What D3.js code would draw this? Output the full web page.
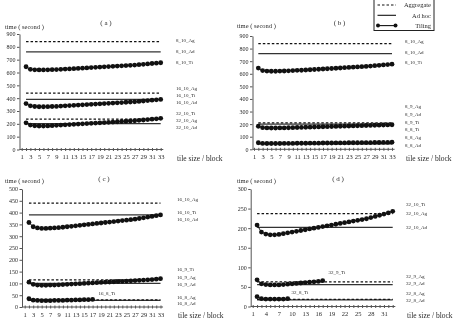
<!DOCTYPE html>
<html>
<head>
<meta charset="utf-8">
<style>
  body { margin: 0; background: #fff; }
  #wrap { width: 474px; height: 326px; will-change: transform; }
  svg text { font-family: "Liberation Serif", "DejaVu Serif", serif; fill: #2a2a2a; }
  .domain { stroke: #555; }
  .tick line { stroke: #555; }
</style>
</head>
<body>
<div id="wrap"><svg id="chart" width="474" height="326"></svg></div>
<script src="https://cdn.jsdelivr.net/npm/d3@7/dist/d3.min.js"></script>
<script>

// tile sizes of the tiling runs
var tileSizes = [2, 3, 4, 5, 6, 7, 8, 9, 10, 11, 12, 13, 14, 15, 16, 17,
                 18, 19, 20, 21, 22, 23, 24, 25, 26, 27, 28, 29, 30, 31, 32, 33];

// tiling times (second), one value per tile size
var ti_8_10  = [645, 625, 621, 620, 620, 621, 622, 623, 625, 627, 628, 630, 632, 634, 636, 638,
                640, 642, 644, 646, 648, 650, 652, 654, 656, 658, 661, 664, 667, 670, 673, 676];
var ti_16_10 = [358, 340, 335, 333, 333, 334, 335, 336, 338, 340, 342, 344, 346, 348, 350, 352,
                354, 356, 358, 360, 362, 364, 366, 368, 370, 372, 375, 378, 381, 384, 387, 390];
var ti_32_10 = [208, 190, 185, 183, 183, 184, 186, 188, 190, 192, 194, 196, 198, 200, 202, 204,
                206, 208, 210, 212, 214, 216, 218, 220, 222, 224, 227, 230, 233, 236, 239, 243];
var ti_8_9   = [183, 172, 170, 169, 169, 170, 170, 171, 172, 173, 174, 175, 176, 177, 178, 179,
                180, 181, 182, 183, 184, 185, 186, 187, 188, 189, 190, 191, 192, 193, 194, 195];
var ti_8_8   = [52, 47, 46, 46, 46, 46, 47, 47, 47, 48, 48, 48, 49, 49, 49, 50,
                50, 50, 51, 51, 51, 52, 52, 52, 53, 53, 53, 54, 54, 55, 55, 56];
var ti_16_9  = [105, 96, 93, 92, 92, 93, 93, 94, 95, 96, 97, 98, 99, 100, 101, 102,
                103, 104, 105, 106, 107, 108, 109, 110, 111, 112, 113, 114, 115, 116, 118, 120];
var ti_16_8  = [35, 29, 28, 27, 27, 27, 28, 28, 28, 29, 29, 30, 30, 31, 31, 32];
var ti_32_9  = [68, 58, 56, 55, 55, 55, 56, 57, 58, 59, 60, 61, 62, 63, 64, 66];
var ti_32_8  = [25, 20, 19, 19, 19, 19, 19, 20];

// aggregate and ad hoc times (constant over tile size)
var seriesKeys    = ['8_10', '16_10', '32_10', '8_9', '8_8', '16_9', '16_8', '32_9', '32_8'];
var aggValues     = [840, 440, 237, 210, 48, 115, 30, 63, 18];
var adhocValues   = [760, 390, 202, 200, 44, 100, 28, 56, 17];
var tilingValues  = [ti_8_10, ti_16_10, ti_32_10, ti_8_9, ti_8_8, ti_16_9, ti_16_8, ti_32_9, ti_32_8];

// tick labels
var xTicksAll   = [1, 2, 3, 4, 5, 6, 7, 8, 9, 10, 11, 12, 13, 14, 15, 16, 17,
                   18, 19, 20, 21, 22, 23, 24, 25, 26, 27, 28, 29, 30, 31, 32, 33];
var xLabelsOdd  = [1, 3, 5, 7, 9, 11, 13, 15, 17, 19, 21, 23, 25, 27, 29, 31, 33];
var xLabelsStep = [1, 4, 7, 10, 13, 16, 19, 22, 25, 28, 31];
var yTicks900 = [0, 100, 200, 300, 400, 500, 600, 700, 800, 900];
var yTicks500 = [0, 50, 100, 150, 200, 250, 300, 350, 400, 450, 500];
var yTicks300 = [0, 50, 100, 150, 200, 250, 300];

var panels = [
  { title: '( a )', keys: ['8_10', '16_10', '32_10'], yTicks: yTicks900, xLabels: xLabelsOdd,
    axisX: 19.5, x1: 21.7, x33: 160.7, top: 34, bottom: 149.5, titleX: 106, titleY: 25, timeX: 5, timeY: 29,
    labelX: 176, tileY: 161,
    labels: [['8_10_Ag', 40], ['8_10_Ad', 51], ['8_10_Ti', 62], ['16_10_Ag', 88], ['16_10_Ti', 95],
             ['16_10_Ad', 102], ['32_10_Ti', 113], ['32_10_Ag', 120], ['32_10_Ad', 127]] },
  { title: '( b )', keys: ['8_10', '8_9', '8_8'], yTicks: yTicks900, xLabels: xLabelsOdd,
    axisX: 252.5, x1: 254, x33: 392, top: 36, bottom: 149.3, titleX: 339.5, titleY: 25, timeX: 237, timeY: 27.5,
    labelX: 405, tileY: 161,
    labels: [['8_10_Ag', 41], ['8_10_Ad', 51.7], ['8_10_Ti', 62], ['8_9_Ag', 106], ['8_9_Ad', 113.7],
             ['8_9_Ti', 122], ['8_8_Ti', 129], ['8_8_Ag', 137], ['8_8_Ad', 145]] },
  { title: '( c )', keys: ['16_10', '16_9', '16_8'], yTicks: yTicks500, xLabels: xLabelsOdd,
    axisX: 22, x1: 24.7, x33: 160.5, top: 189, bottom: 307, titleX: 104, titleY: 180.5, timeX: 5, timeY: 182.5,
    labelX: 177, tileY: 318,
    labels: [['16_10_Ag', 199.5], ['16_10_Ti', 212.3], ['16_10_Ad', 219.3], ['16_9_Ti', 269.3],
             ['16_9_Ag', 277.3], ['16_9_Ad', 284.3], ['16_8_Ag', 296.7], ['16_8_Ad', 303.3]],
    inline: [['16_8_Ti', 107, 293]] },
  { title: '( d )', keys: ['32_10', '32_9', '32_8'], yTicks: yTicks300, xLabels: xLabelsStep,
    axisX: 250.7, x1: 252.7, x33: 392.7, top: 189, bottom: 306.5, titleX: 338, titleY: 180.5, timeX: 237, timeY: 182.5,
    labelX: 406, tileY: 318,
    labels: [['32_10_Ti', 204.3], ['32_10_Ag', 213.3], ['32_10_Ad', 226.7], ['32_9_Ag', 276],
             ['32_9_Ad', 282.7], ['32_8_Ag', 292.7], ['32_8_Ad', 300]],
    inline: [['32_9_Ti', 337, 272], ['32_8_Ti', 300, 292]] }
];

var svg = d3.select('#chart');

panels.forEach(function(p) {
  var step = (p.x33 - p.x1) / 32;
  var x = d3.scaleLinear().domain([1, 33]).range([p.x1, p.x33]);
  var yMax = p.yTicks[p.yTicks.length - 1];
  var y = d3.scaleLinear().domain([0, yMax]).range([p.bottom, p.top]);
  var g = svg.append('g');

  // y axis
  var yAxis = g.append('g')
    .attr('transform', 'translate(' + p.axisX + ',0)')
    .call(d3.axisLeft(y).tickValues(p.yTicks).tickSize(2.5).tickSizeOuter(0));
  yAxis.selectAll('text').style('font-size', '6px').attr('x', -4);

  // x axis: small ticks on every tile size, crossing the line
  var xAxis = g.append('g')
    .attr('transform', 'translate(0,' + p.bottom + ')')
    .call(d3.axisBottom(x).tickValues(xTicksAll).tickSize(1.5).tickSizeOuter(0)
      .tickFormat(function(d) { return p.xLabels.indexOf(d) >= 0 ? d : ''; }));
  xAxis.select('.domain').attr('d', 'M' + p.axisX + ',0H' + (p.x33 + step * 0.6));
  xAxis.selectAll('.tick line').attr('y1', -1.5);
  xAxis.selectAll('text').style('font-size', '6.5px').attr('y', 5);

  // texts
  g.append('text').attr('x', p.titleX).attr('y', p.titleY).attr('text-anchor', 'middle')
    .style('font-size', '7px').text(p.title);
  g.append('text').attr('x', p.timeX).attr('y', p.timeY)
    .style('font-size', '6.5px').text('time ( second )');
  g.append('text').attr('x', p.labelX + 1).attr('y', p.tileY)
    .style('font-size', '7.5px').text('tile size / block');

  p.keys.forEach(function(k) {
    var i = seriesKeys.indexOf(k);
    // ad hoc: solid line
    g.append('line')
      .attr('x1', x(2)).attr('x2', x(33))
      .attr('y1', y(adhocValues[i])).attr('y2', y(adhocValues[i]))
      .attr('stroke', '#333').attr('stroke-width', 1.3);
    // aggregate: dashed line
    g.append('line')
      .attr('x1', x(2)).attr('x2', x(33))
      .attr('y1', y(aggValues[i])).attr('y2', y(aggValues[i]))
      .attr('stroke', '#111').attr('stroke-width', 1.2)
      .attr('stroke-dasharray', '2.5,2');
    // tiling: line with dots
    var pts = tilingValues[i].map(function(v, j) { return [tileSizes[j], v]; });
    g.append('path')
      .datum(pts)
      .attr('fill', 'none').attr('stroke', '#111').attr('stroke-width', 1)
      .attr('d', d3.line().x(function(d) { return x(d[0]); }).y(function(d) { return y(d[1]); }));
    g.selectAll(null)
      .data(pts)
      .enter().append('circle')
        .attr('cx', function(d) { return x(d[0]); })
        .attr('cy', function(d) { return y(d[1]); })
        .attr('r', 2.4)
        .attr('fill', '#111');
  });

  // series labels
  p.labels.forEach(function(l) {
    g.append('text').attr('x', p.labelX).attr('y', l[1] + 1.8)
      .style('font-size', '5px').text(l[0]);
  });
  (p.inline || []).forEach(function(l) {
    g.append('text').attr('x', l[1]).attr('y', l[2] + 1.8).attr('text-anchor', 'middle')
      .style('font-size', '5px').text(l[0]);
  });
});

// legend (top right of panel b)
var leg = svg.append('g');
leg.append('rect')
  .attr('x', 374).attr('y', -1).attr('width', 60).attr('height', 31.5)
  .attr('fill', '#fff').attr('stroke', '#222').attr('stroke-width', 1);
var legItems = ['Aggregate', 'Ad hoc', 'Tiling'];
legItems.forEach(function(name, i) {
  var ly = 5 + i * 10.3;
  var line = leg.append('line')
    .attr('x1', 377.5).attr('x2', 396).attr('y1', ly).attr('y2', ly)
    .attr('stroke', '#111').attr('stroke-width', 1.1);
  if (i === 0) line.attr('stroke-dasharray', '2.5,2');
  if (i === 2) {
    leg.append('circle').attr('cx', 378).attr('cy', ly).attr('r', 2).attr('fill', '#111');
    leg.append('circle').attr('cx', 395.5).attr('cy', ly).attr('r', 2).attr('fill', '#111');
  }
  leg.append('text').attr('x', 431).attr('y', ly + 2.2).attr('text-anchor', 'end')
    .style('font-size', '6.5px').text(name);
});

</script>
</body>
</html>
